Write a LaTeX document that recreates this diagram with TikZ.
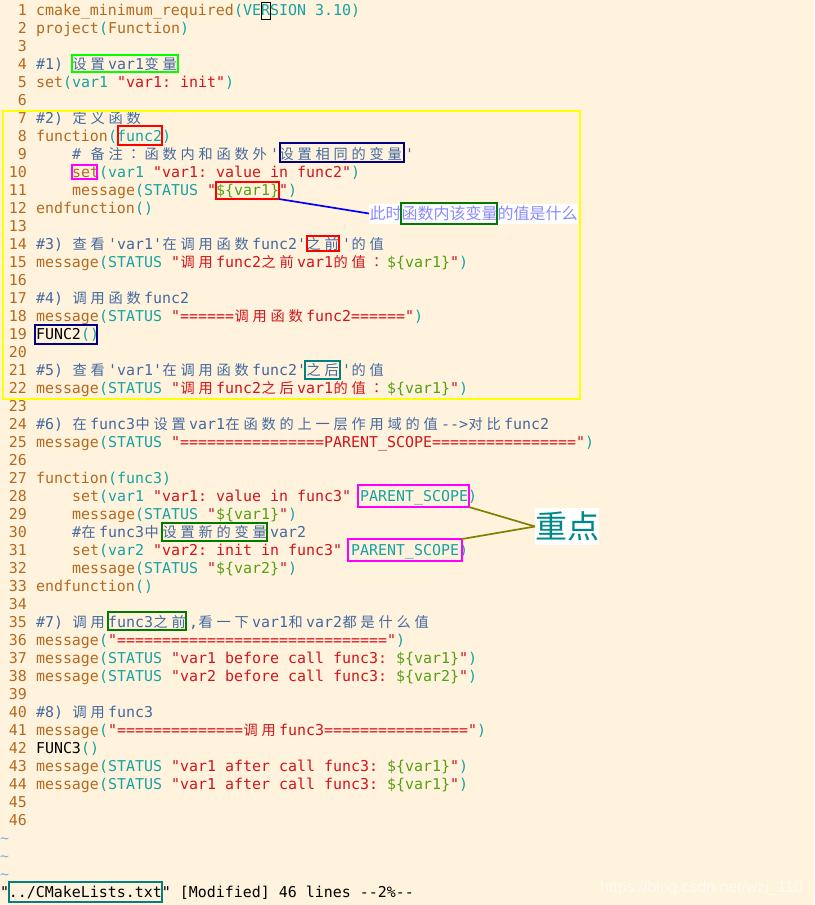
\documentclass[tikz,border=0pt]{standalone}
\usepackage{fontspec}
\usetikzlibrary{fit}
\setmainfont{Liberation Sans}
\setmonofont{DejaVu Sans Mono}
\newfontfamily\cjk{Noto Sans CJK SC}
\newfontfamily\cjktc{Noto Sans CJK TC}
\definecolor{pagebg}{HTML}{FFF3DE}
\definecolor{kw}{HTML}{B5691E}
\definecolor{tl}{HTML}{17A3A3}
\definecolor{rd}{HTML}{D2141C}
\definecolor{gn}{HTML}{55A010}
\definecolor{cm}{HTML}{44699F}
\definecolor{tilde}{HTML}{7FB2E0}
\definecolor{notecol}{HTML}{8A8AFF}
\definecolor{keycol}{HTML}{008888}
\definecolor{navybox}{HTML}{000080}
\definecolor{greenbox}{HTML}{007A00}
\definecolor{tealbox}{HTML}{008080}
\definecolor{olivel}{HTML}{808000}
\definecolor{magb}{HTML}{FF00FF}
\definecolor{yelb}{HTML}{FFFF00}
\definecolor{greenb}{HTML}{00FF00}
\definecolor{redb}{HTML}{FF0000}
\definecolor{blueb}{HTML}{0000FF}
\makeatletter
\newcommand\zh[1]{\@tfor\zhc:=#1\do{\makebox[18pt][l]{\hspace{0.6pt}\cjk\fontsize{14.2}{15}\selectfont\zhc}}}
\makeatother
\newcommand\zcolon{\makebox[18pt][l]{\hspace{0.6pt}\cjktc\fontsize{14.2}{15}\selectfont ：}}
\newcommand\K[1]{\textcolor{kw}{#1}}
\newcommand\T[1]{\textcolor{tl}{#1}}
\newcommand\R[1]{\textcolor{rd}{#1}}
\newcommand\G[1]{\textcolor{gn}{#1}}
\newcommand\M[1]{\textcolor{cm}{#1}}
\newcommand\VA{\G{\$\{var1\}}}
\newcommand\VB{\G{\$\{var2\}}}
\newcommand\MS{\K{message}\T{(STATUS }}
\tikzset{
  x=1pt,y=-1pt,
  code/.style={anchor=base west,inner sep=0pt,outer sep=0pt,text height=0pt,text depth=0pt,
    font=\ttfamily\fontsize{14.95}{18}\selectfont\frenchspacing},
  lnum/.style={anchor=base east,inner sep=0pt,outer sep=0pt,text=kw,
    font=\ttfamily\fontsize{14.95}{18}\selectfont},
  markbox/.style={draw=#1,line width=2pt,inner sep=0pt,outer sep=0pt,fill=none},
}
\newcommand\cl[3]{\node[code] (l#1) at (#2,{15+18*(#1-1)}) {#3};}
\newcommand\mk[6]{\node[markbox=#2,fit={(#3,#4)(#5,#6)}] (#1) {};}
\begin{document}
\begin{tikzpicture}
\useasboundingbox (0,0) rectangle (814,905);
\fill[pagebg] (0,0) rectangle (814,905);
\foreach \n in {1,...,46} \node[lnum] (n\n) at (27,{15+18*(\n-1)}) {\n};
\cl{1}{36}{\K{cmake\_minimum\_required}\T{(VERSION 3.10)}}
\cl{2}{36}{\K{project}\T{(}\K{Function}\T{)}}
\cl{4}{36}{\M{\#1) \zh{设置}var1\zh{变量}}}
\cl{5}{36}{\K{set}\T{(var1 }\R{"var1: init"}\T{)}}
\cl{7}{36}{\M{\#2) \zh{定义函数}}}
\cl{8}{36}{\K{function}\T{(func2)}}
\cl{9}{72}{\M{\# \zh{备注}\zcolon\zh{函数内和函数外}'\zh{设置相同的变量}'}}
\cl{10}{72}{\K{set}\T{(var1 }\R{"var1: value in func2"}\T{)}}
\cl{11}{72}{\MS\R{"}\VA\R{"}\T{)}}
\cl{12}{36}{\K{endfunction}\T{()}}
\cl{14}{36}{\M{\#3) \zh{查看}'var1'\zh{在调用函数}func2'\zh{之前}'\zh{的值}}}
\cl{15}{36}{\MS\R{"\zh{调用}func2\zh{之前}var1\zh{的值}\zcolon}\VA\R{"}\T{)}}
\cl{17}{36}{\M{\#4) \zh{调用函数}func2}}
\cl{18}{36}{\MS\R{"======\zh{调用函数}func2======"}\T{)}}
\cl{19}{36}{\textcolor{black}{FUNC2}\T{()}}
\cl{21}{36}{\M{\#5) \zh{查看}'var1'\zh{在调用函数}func2'\zh{之后}'\zh{的值}}}
\cl{22}{36}{\MS\R{"\zh{调用}func2\zh{之后}var1\zh{的值}\zcolon}\VA\R{"}\T{)}}
\cl{24}{36}{\M{\#6) \zh{在}func3\zh{中设置}var1\zh{在函数的上一层作用域的值}-{}->\zh{对比}func2}}
\cl{25}{36}{\MS\R{"================PARENT\_SCOPE================"}\T{)}}
\cl{27}{36}{\K{function}\T{(func3)}}
\cl{28}{72}{\K{set}\T{(var1 }\R{"var1: value in func3"}\T{\ PARENT\_SCOPE)}}
\cl{29}{72}{\MS\R{"}\VA\R{"}\T{)}}
\cl{30}{72}{\M{\#\zh{在}func3\zh{中设置新的变量}var2}}
\cl{31}{72}{\K{set}\T{(var2 }\R{"var2: init in func3"}\T{\ PARENT\_SCOPE)}}
\cl{32}{72}{\MS\R{"}\VB\R{"}\T{)}}
\cl{33}{36}{\K{endfunction}\T{()}}
\cl{35}{36}{\M{\#7) \zh{调用}func3\zh{之前},\zh{看一下}var1\zh{和}var2\zh{都是什么值}}}
\cl{36}{36}{\K{message}\T{(}\R{"=============================="}\T{)}}
\cl{37}{36}{\MS\R{"var1 before call func3: }\VA\R{"}\T{)}}
\cl{38}{36}{\MS\R{"var2 before call func3: }\VB\R{"}\T{)}}
\cl{40}{36}{\M{\#8) \zh{调用}func3}}
\cl{41}{36}{\K{message}\T{(}\R{"==============\zh{调用}func3================"}\T{)}}
\cl{42}{36}{\textcolor{black}{FUNC3}\T{()}}
\cl{43}{36}{\MS\R{"var1 after call func3: }\VA\R{"}\T{)}}
\cl{44}{36}{\MS\R{"var1 after call func3: }\VA\R{"}\T{)}}
\node[code,text=tilde] (t1) at (0,843) {\char`\~};
\node[code,text=tilde] (t2) at (0,861) {\char`\~};
\node[code,text=tilde] (t3) at (0,879) {\char`\~};
\node[code,text=black] (status) at (0,897) {"../CMakeLists.txt" [Modified] 46 lines -{}-2\%-{}-};
% annotations
\node[inner sep=0pt,outer sep=0pt,fill=white,minimum width=209pt,minimum height=20pt,text=notecol,
  font=\cjk\fontsize{16}{16}\selectfont] (note) at (473.5,213.5) {此时函数内该变量的值是什么};
\node[inner sep=0pt,outer sep=0pt,fill=white,minimum width=64pt,minimum height=37pt,text=keycol,
  font=\cjk\fontsize{32}{32}\selectfont] (key) at (567,526.5) {重点};
\node[anchor=base west,inner sep=0pt,text=white,opacity=0.6,font=\fontsize{15.8}{17}\selectfont] (wm) at (600,892) {https://blog.csdn.net/wzj\_110};
% boxes
\draw[black,line width=0.8pt] (261,2) rectangle (270,19);
\draw[yelb,line width=2pt] (3,110.5) rectangle (580,399);
\mk{b1}{greenb}{71.5}{55}{178}{72}
\mk{b2}{redb}{118}{126}{162}{145}
\mk{b3}{navybox}{280}{143}{404}{162}
\mk{b4}{magb}{71.5}{165}{97}{179}
\mk{b5}{redb}{216}{182}{279}{199}
\mk{b6}{greenbox}{400.5}{203}{497}{224}
\mk{b7}{redb}{306.5}{236}{338.5}{251}
\mk{b8}{navybox}{35}{325}{97}{344}
\mk{b9}{tealbox}{305}{361}{340}{379}
\mk{b10}{magb}{358}{485}{469}{507}
\mk{b11}{greenbox}{162}{523}{267}{541}
\mk{b12}{magb}{348}{539}{462}{561}
\mk{b13}{greenbox}{108}{612}{185.5}{630}
\mk{b14}{tealbox}{8.5}{882}{162}{902}
\draw[blueb,line width=1.7pt] (b5.south east) -- (note.west);
\draw[olivel,line width=1.7pt] (b10.south east) -- (key.west);
\draw[olivel,line width=1.7pt] (b12.north east) -- (key.west);
\end{tikzpicture}
\end{document}
